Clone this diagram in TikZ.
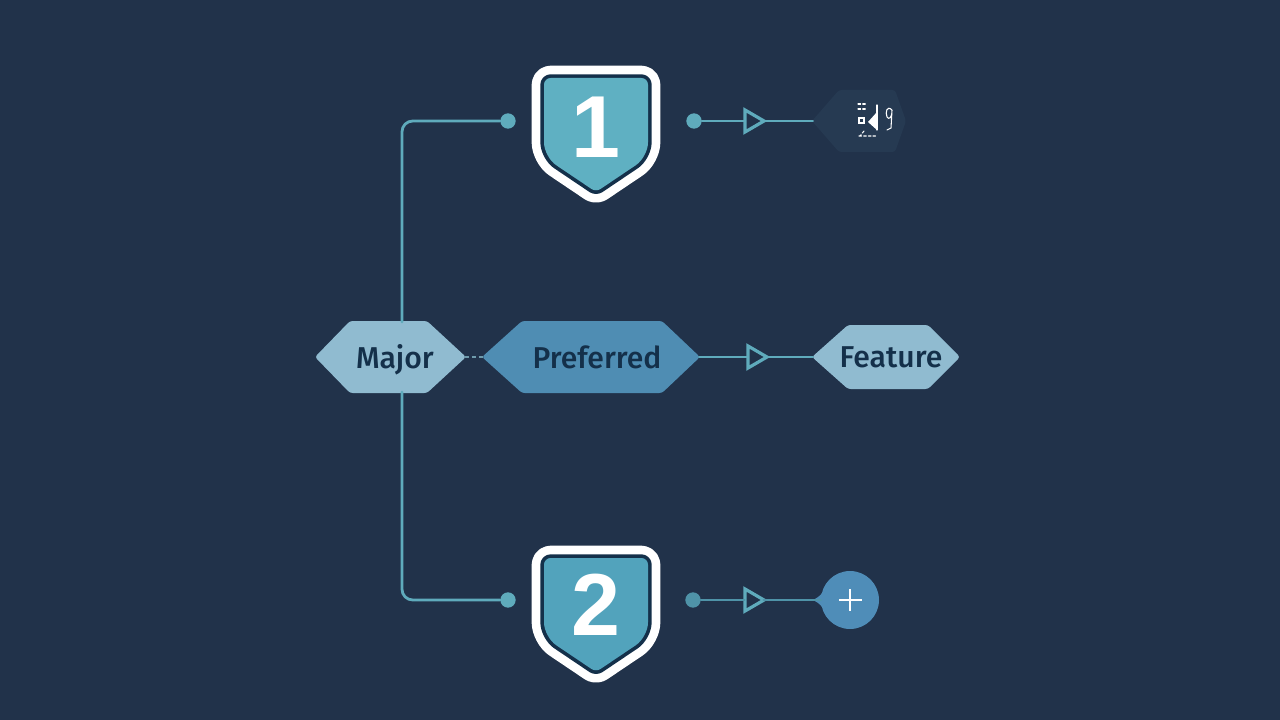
\documentclass[tikz,border=0pt]{standalone}
\usepackage{fontspec}
\setmainfont{Fira Sans}[UprightFont={* Medium}]
\newfontfamily\numfont{Liberation Sans}
\definecolor{bgc}{HTML}{21324A}
\definecolor{linec}{HTML}{5FABBC}
\definecolor{dimline}{HTML}{4F93A8}
\definecolor{linkc}{HTML}{6F9BAC}
\definecolor{darkc}{HTML}{14304A}
\definecolor{shieldA}{HTML}{5FB0C2}
\definecolor{shieldB}{HTML}{52A3BC}
\definecolor{lighthex}{HTML}{90BBD0}
\definecolor{midhex}{HTML}{4F8DB3}
\definecolor{ghost}{HTML}{263A52}
\definecolor{plusc}{HTML}{4F8DB8}
\tikzset{
  x=0.75pt,y=-0.75pt,
  wire/.style={draw=#1,line width=2.1pt,line cap=round,rounded corners=8pt},
  wire/.default=linec,
  dotnode/.style={circle,fill=#1,inner sep=0pt,minimum size=11.5pt},
  dotnode/.default=linec,
  label/.style={font=\fontsize{22.6}{26}\selectfont,text=darkc,inner sep=0pt,anchor=base},
  hexbox/.style={inner sep=0pt,text=darkc},
  numeral/.style={font=\numfont\bfseries\fontsize{66}{72}\selectfont,text=white,inner sep=0pt},
  tritip/.style={draw=linec,line width=2.4pt,fill=bgc,line join=miter},
  trinode/.style={inner sep=0pt,minimum width=14.25pt,minimum height=15pt},
  speck/.style={draw=white,line width=0.8pt,line cap=round},
}
% hexagon: name, left, right, top, bottom, left chamfer, right chamfer, colour
\newcommand{\hexa}[8]{%
  \fill[#8,rounded corners=2pt] (#2-1,{(#4+#5)/2}) -- (#2+#6,#4) -- (#3-#7,#4) -- (#3+1,{(#4+#5)/2}) -- (#3-#7,#5) -- (#2+#6,#5) -- cycle;
  \node[hexbox,minimum width={(#3-#2)*0.75pt},minimum height={(#5-#4)*0.75pt}] (#1) at ({(#2+#3)/2},{(#4+#5)/2}) {};
}
% shield centred on x, top y
\newcommand{\shield}[4]{%
  \def\sp{(#2-52,#3) [rounded corners=5pt] -- (#2+52,#3) [rounded corners=11pt] -- (#2+52,#3+79) [rounded corners=4pt] -- (#2,#3+114) [rounded corners=11pt] -- (#2-52,#3+79) [rounded corners=5pt] -- cycle}
  \draw[white,line width=18.5pt,line join=round] \sp;
  \draw[darkc,line width=5.5pt,line join=round] \sp;
  \fill[#4] \sp;
  \node[inner sep=0pt,minimum width=128*0.75pt,minimum height=140*0.75pt] (#1) at (#2,#3+56) {};
}
\newcommand{\opentri}[3]{%
  \draw[tritip] (#2-9,#3-11) -- (#2+10,#3) -- (#2-9,#3+11) -- cycle;
  \node[trinode] (#1) at (#2,#3) {};
}
\begin{document}
\begin{tikzpicture}
\useasboundingbox (0,0) rectangle (1280,720);
\fill[bgc] (0,0) rectangle (1280,720);

% hexagons
\hexa{major}{316}{465}{321}{393}{34}{38}{lighthex}
\hexa{preferred}{483}{699}{321}{393}{39}{37}{midhex}
\hexa{feature}{813}{959}{325}{389}{35}{31}{lighthex}
\hexa{ghosthex}{813}{905}{90}{152}{26}{10}{ghost}
\node[circle,fill=plusc,minimum size=43.5pt,inner sep=0pt] (plus) at (850,600) {};
\fill[plusc] (812,600) .. controls (820,598) and (825,590) .. (832,578) -- (832,622) .. controls (825,610) and (820,602) .. (812,600) -- cycle;

% shields
\shield{sone}{596}{78}{shieldA}
\shield{stwo}{596}{558}{shieldB}
\node[numeral] at (596,127) {1};
\node[numeral] at (596,605) {2};

% dots
\node[dotnode] (dL1) at (508,121) {};
\node[dotnode] (dL2) at (508,600) {};
\node[dotnode] (dR1) at (694,121) {};
\node[dotnode=dimline] (dR2) at (693,600) {};

% connectors
\coordinate (mtop) at (402,322);
\coordinate (mbot) at (402,392);
\draw[wire] (mtop) |- (dL1);
\draw[wire] (mbot) |- (dL2);
\draw[draw=linkc,line width=2.2pt,dash pattern=on 3pt off 2pt] (major.east) -- (preferred.west);
\opentri{t1}{754}{121}
\opentri{t2}{757}{357}
\opentri{t3}{754}{600}
\draw[wire] (dR1) -- (t1.west);
\draw[wire] (t1.east) -- (ghosthex.west);
\draw[wire] (preferred.east) -- (t2.west);
\draw[wire] (t2.east) -- (feature.west);
\draw[wire=dimline] (dR2) -- (t3.west);
\draw[wire=dimline] (t3.east) -- (plus.west);

% labels
\node[label] at (395,368) {Major};
\node[label] at (597,368) {Preferred};
\node[label] at (891,367) {Feature};
\draw[white,line width=2.1pt] (839,600) -- (862,600) (850,589) -- (850,611);

% specks in the faint hexagon
\fill[white] (877,112) -- (877,130) -- (868,122) -- cycle;
\draw[speck] (877,105) -- (877,130);
\draw[speck] (892,110) .. controls (887,105) and (885,112) .. (887,117) .. controls (889,120) and (892,118) .. (892,110) -- (891,128) -- (887,130);
\draw[speck,dash pattern=on 2pt off 1.5pt] (858,104) -- (867,104) (858,109) -- (867,109);
\draw[speck] (859,118) -- (864,118) -- (864,123) -- (859,123) -- cycle;
\draw[speck,dash pattern=on 2pt off 1.5pt] (859,136) -- (876,136) (864,131) -- (860,136);
\end{tikzpicture}
\end{document}
